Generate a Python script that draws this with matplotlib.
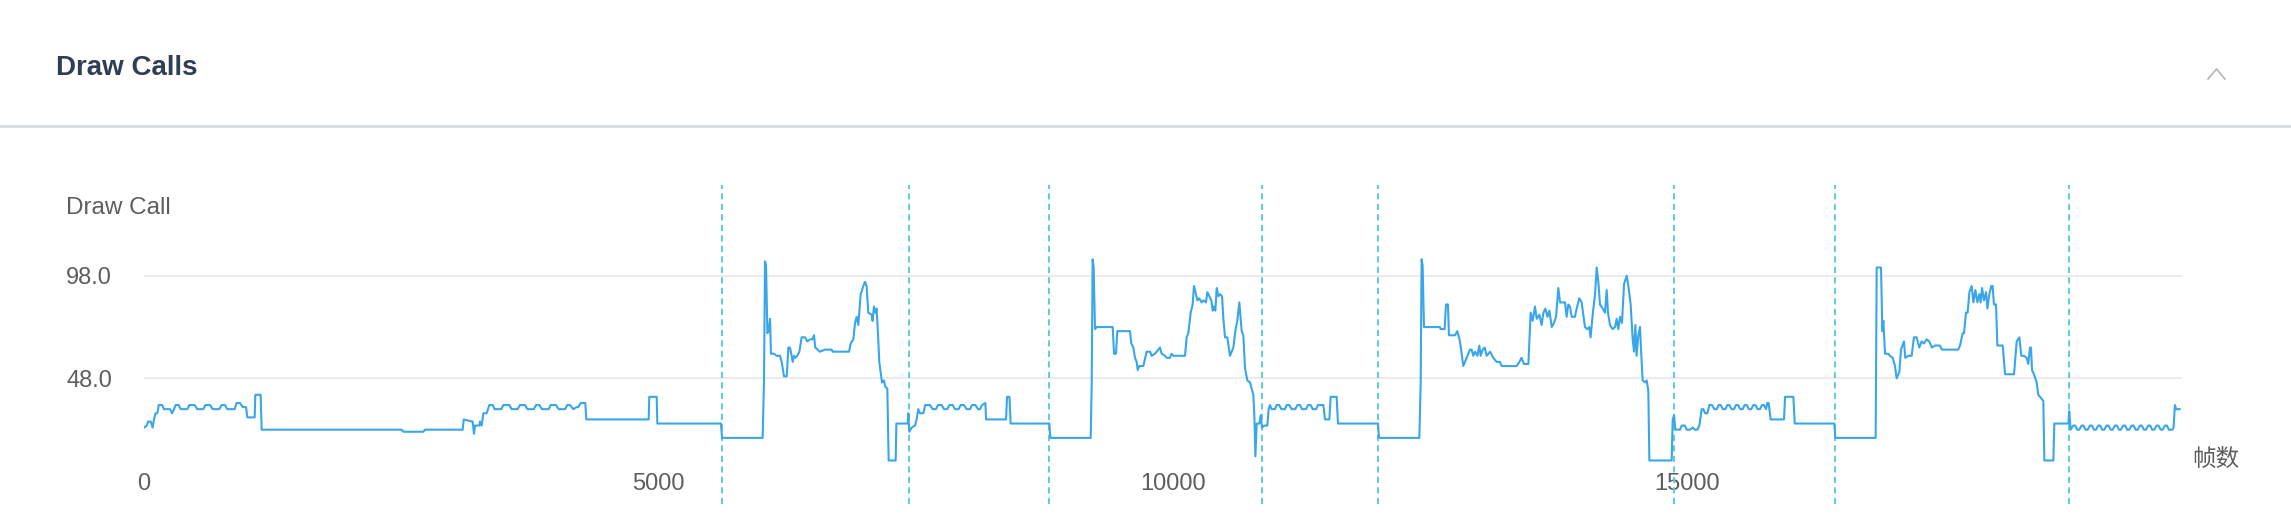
import matplotlib
matplotlib.use("Agg")
import matplotlib.pyplot as plt
from matplotlib.lines import Line2D

plt.rcParams['font.family'] = ['Liberation Sans', 'Noto Sans CJK SC', 'DejaVu Sans']

# frame index / draw call count
frames = [
    0, 26, 42, 65, 84, 97, 113, 130, 143, 175,
    194, 253, 272, 292, 308, 337, 356, 421, 441, 493,
    518, 577, 596, 642, 668, 732, 755, 787, 810, 881,
    901, 933, 959, 992, 1005, 1076, 1082, 1134, 1144, 2505,
    2521, 2715, 2732, 3098, 3108, 3185, 3195, 3208, 3218, 3260,
    3266, 3283, 3299, 3331, 3357, 3389, 3409, 3474, 3493, 3551,
    3574, 3632, 3655, 3704, 3727, 3791, 3811, 3843, 3869, 3934,
    3953, 4005, 4031, 4093, 4115, 4141, 4174, 4206, 4222, 4245,
    4290, 4300, 4906, 4912, 4984, 4990, 5609, 5619, 6014, 6027,
    6037, 6047, 6060, 6073, 6086, 6095, 6124, 6150, 6183, 6199,
    6222, 6248, 6264, 6280, 6296, 6306, 6319, 6332, 6351, 6371,
    6393, 6426, 6448, 6474, 6497, 6513, 6526, 6571, 6620, 6685,
    6695, 6854, 6870, 6896, 6912, 6928, 6944, 6967, 6993, 7009,
    7025, 7041, 7074, 7083, 7096, 7109, 7122, 7135, 7148, 7161,
    7174, 7193, 7206, 7226, 7239, 7307, 7314, 7424, 7430, 7440,
    7462, 7495, 7511, 7527, 7543, 7576, 7595, 7640, 7667, 7699,
    7718, 7754, 7777, 7809, 7829, 7861, 7884, 7919, 7939, 7971,
    7997, 8030, 8049, 8082, 8108, 8127, 8146, 8179, 8186, 8380,
    8390, 8413, 8425, 8801, 8811, 9203, 9213, 9222, 9232, 9245,
    9261, 9417, 9430, 9449, 9462, 9585, 9598, 9618, 9634, 9650,
    9660, 9676, 9715, 9747, 9780, 9796, 9828, 9844, 9877, 9893,
    9925, 9941, 9974, 9990, 10006, 10120, 10136, 10152, 10175, 10194,
    10207, 10227, 10240, 10259, 10282, 10298, 10324, 10337, 10356, 10376,
    10389, 10402, 10415, 10428, 10444, 10460, 10480, 10493, 10509, 10531,
    10557, 10590, 10609, 10628, 10648, 10671, 10687, 10703, 10726, 10752,
    10768, 10784, 10794, 10804, 10817, 10843, 10856, 10868, 10888, 10920,
    10933, 10946, 10962, 10994, 11011, 11036, 11056, 11092, 11108, 11134,
    11156, 11192, 11212, 11238, 11257, 11296, 11316, 11342, 11361, 11394,
    11413, 11465, 11481, 11523, 11536, 11594, 11607, 11996, 12006, 12398,
    12411, 12420, 12430, 12443, 12598, 12605, 12644, 12657, 12676, 12686,
    12744, 12767, 12793, 12825, 12858, 12890, 12906, 12923, 12939, 12962,
    12981, 12994, 13014, 13033, 13052, 13069, 13085, 13117, 13150, 13182,
    13198, 13344, 13370, 13392, 13415, 13458, 13480, 13500, 13522, 13539,
    13565, 13587, 13604, 13623, 13643, 13662, 13685, 13707, 13727, 13749,
    13766, 13792, 13814, 13830, 13846, 13862, 13879, 13911, 13927, 13953,
    13976, 14008, 14031, 14050, 14063, 14083, 14106, 14122, 14138, 14154,
    14180, 14203, 14219, 14232, 14251, 14277, 14300, 14316, 14332, 14349,
    14368, 14388, 14414, 14430, 14452, 14472, 14485, 14498, 14510, 14527,
    14543, 14556, 14569, 14592, 14608, 14624, 14634, 14851, 14861, 14874,
    14887, 14932, 14948, 14981, 14997, 15029, 15055, 15078, 15101, 15120,
    15143, 15159, 15175, 15198, 15217, 15243, 15266, 15288, 15308, 15327,
    15350, 15373, 15392, 15411, 15434, 15457, 15476, 15496, 15518, 15541,
    15560, 15580, 15603, 15625, 15645, 15664, 15687, 15709, 15729, 15748,
    15768, 15781, 15794, 15813, 15943, 15953, 16034, 16047, 16432, 16442,
    16834, 16844, 16886, 16899, 16909, 16925, 16957, 16973, 16999, 17022,
    17038, 17064, 17080, 17109, 17122, 17151, 17184, 17206, 17232, 17258,
    17281, 17304, 17330, 17355, 17381, 17410, 17459, 17478, 17637, 17654,
    17680, 17693, 17712, 17728, 17745, 17767, 17784, 17803, 17823, 17842,
    17855, 17868, 17887, 17907, 17920, 17939, 17958, 17971, 17984, 18004,
    18017, 18069, 18092, 18179, 18205, 18231, 18250, 18276, 18302, 18318,
    18334, 18344, 18354, 18373, 18399, 18415, 18431, 18448, 18464, 18474,
    18561, 18571, 18707, 18716, 18729, 18755, 18774, 18794, 18813, 18836,
    18855, 18875, 18894, 18917, 18936, 18956, 18975, 18998, 19017, 19037,
    19056, 19079, 19098, 19118, 19137, 19160, 19179, 19199, 19218, 19241,
    19260, 19280, 19299, 19322, 19341, 19361, 19380, 19403, 19422, 19442,
    19461, 19484, 19503, 19523, 19542, 19565, 19584, 19604, 19623, 19646,
    19665, 19685, 19717, 19730, 19743, 19756, 19789,
]
draw_calls = [
    24, 25, 27, 27, 24, 28, 31, 31, 35, 35,
    33, 33, 31, 33, 35, 35, 33, 33, 35, 35,
    33, 33, 35, 35, 33, 33, 35, 35, 33, 33,
    36, 36, 34, 34, 29, 29, 40, 40, 23, 23,
    22, 22, 23, 23, 28, 27, 27, 21, 25, 25,
    27, 25, 31, 31, 35, 35, 33, 33, 35, 35,
    33, 33, 35, 35, 33, 33, 35, 35, 33, 33,
    35, 35, 33, 33, 35, 35, 33, 34, 34, 36,
    36, 28, 28, 39, 39, 26, 26, 19, 19, 46,
    105, 103, 70, 71, 77, 60, 60, 59, 59, 56,
    49, 49, 63, 63, 59, 56, 59, 58, 59, 61,
    68, 68, 66, 67, 67, 69, 63, 61, 62, 62,
    61, 61, 65, 67, 75, 78, 74, 89, 93, 95,
    93, 80, 79, 76, 83, 80, 82, 70, 56, 51,
    46, 47, 44, 43, 8, 8, 26, 26, 31, 22,
    24, 25, 28, 33, 31, 31, 35, 35, 33, 33,
    35, 35, 33, 33, 35, 35, 33, 33, 35, 35,
    33, 33, 35, 35, 33, 33, 35, 36, 28, 28,
    39, 39, 26, 26, 19, 19, 46, 106, 102, 72,
    73, 73, 60, 60, 71, 71, 65, 63, 58, 56,
    52, 54, 54, 61, 61, 59, 60, 61, 63, 60,
    59, 58, 58, 60, 59, 59, 68, 70, 80, 84,
    93, 89, 86, 87, 85, 86, 85, 90, 88, 86,
    81, 83, 81, 92, 88, 89, 88, 77, 68, 68,
    59, 63, 71, 76, 85, 71, 69, 53, 47, 46,
    43, 40, 30, 10, 26, 26, 30, 24, 25, 25,
    33, 35, 33, 33, 35, 35, 33, 33, 35, 35,
    33, 33, 35, 35, 33, 33, 35, 35, 33, 33,
    35, 35, 28, 28, 39, 39, 26, 26, 19, 19,
    46, 106, 103, 73, 73, 72, 72, 84, 84, 69,
    69, 71, 66, 54, 58, 62, 62, 59, 61, 59,
    64, 59, 62, 63, 59, 60, 61, 58, 56, 56,
    54, 54, 56, 58, 55, 55, 80, 76, 83, 77,
    79, 74, 80, 82, 78, 81, 73, 75, 78, 92,
    85, 85, 85, 78, 84, 83, 78, 78, 82, 87,
    85, 73, 72, 73, 68, 79, 89, 102, 95, 84,
    82, 80, 91, 80, 74, 72, 73, 77, 72, 78,
    75, 94, 98, 93, 84, 67, 61, 74, 59, 69,
    73, 59, 47, 46, 47, 42, 8, 8, 28, 30,
    23, 23, 25, 25, 23, 23, 24, 23, 23, 25,
    33, 33, 31, 31, 35, 35, 33, 33, 35, 35,
    33, 33, 35, 35, 33, 33, 35, 35, 33, 33,
    35, 35, 33, 33, 35, 35, 33, 33, 35, 35,
    33, 36, 36, 28, 28, 39, 39, 26, 26, 19,
    19, 102, 102, 71, 76, 60, 60, 59, 58, 54,
    48, 51, 62, 66, 58, 59, 59, 68, 68, 63,
    66, 65, 67, 66, 63, 64, 64, 62, 62, 64,
    70, 70, 80, 80, 90, 93, 85, 91, 85, 89,
    85, 92, 86, 90, 82, 89, 93, 93, 84, 84,
    64, 64, 50, 50, 66, 68, 59, 59, 58, 55,
    63, 63, 52, 50, 46, 40, 39, 38, 37, 8,
    8, 26, 26, 32, 23, 25, 25, 23, 23, 25,
    25, 23, 23, 25, 25, 23, 23, 25, 25, 23,
    23, 25, 25, 23, 23, 25, 25, 23, 23, 25,
    25, 23, 23, 25, 25, 23, 23, 25, 25, 23,
    23, 25, 25, 23, 23, 25, 25, 23, 23, 25,
    25, 23, 23, 24, 35, 33, 33,
]

# scene switch markers (dashed)
scene_marks = [5616, 7437, 8801, 10865, 11999, 14874, 16436, 18717]

y_ticks = [48, 98]
y_labels = ['48.0', '98.0']
x_ticks = [0, 5000, 10000, 15000]
x_labels = ['0', '5000', '10000', '15000']

W, H = 2291, 527
fig = plt.figure(figsize=(W / 100, H / 100), dpi=100)
fig.patch.set_facecolor('white')

# header of the panel
fig.text(56 / W, 1 - 68 / H, 'Draw Calls', fontsize=20, fontweight='bold',
         color='#2f3e56', ha='left', va='center')
fig.add_artist(Line2D([0, 1], [1 - 126 / H] * 2, color='#d3d6db', lw=1.8))
fig.add_artist(Line2D([2208 / W, 2216.5 / W, 2225 / W],
                      [1 - 79 / H, 1 - 69 / H, 1 - 79 / H],
                      color='#b5b5b5', lw=1.2))

ax = fig.add_axes([144 / W, 1 - 504 / H, (2182 - 144) / W, (504 - 185) / H])
ax.plot(frames, draw_calls, color='#38a6e9', lw=1.5, zorder=3)
for m in scene_marks:
    ax.axvline(m, color='#5ccfd6', lw=1.4, ls=(0, (3.2, 2.2)), zorder=2)

ax.set_xlim(0, 19812)
ax.set_ylim(-13.2, 142.2)
ax.set_yticks(y_ticks, y_labels)
ax.set_xticks(x_ticks, x_labels)
ax.yaxis.grid(True, color='#ebebeb', lw=1.4)
ax.set_axisbelow(True)
for s in ax.spines.values():
    s.set_visible(False)
ax.tick_params(axis='y', length=0, pad=23, labelsize=17, labelcolor='#5e5e5e')
ax.tick_params(axis='x', length=0, pad=-22, labelsize=17, labelcolor='#5e5e5e')

fig.text(66 / W, 1 - 207.5 / H, 'Draw Call', fontsize=17.5, color='#5e5e5e',
         ha='left', va='center')
fig.text(2192 / W, 1 - 460 / H, '帧数', fontsize=17, color='#5e5e5e',
         ha='left', va='center')

fig.savefig('out.png', dpi=100, facecolor='white')
